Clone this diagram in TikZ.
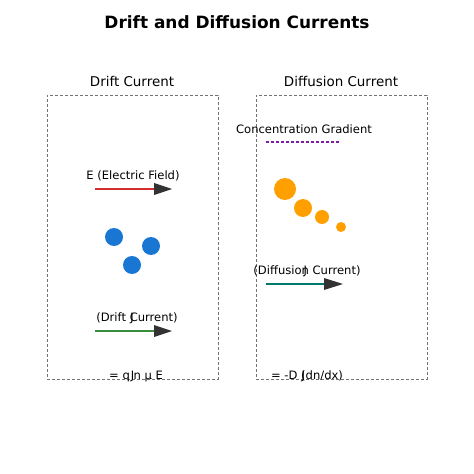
\documentclass[tikz,border=0pt]{standalone}
\usepackage{fontspec}
\setmainfont{DejaVu Sans}
\newcommand{\ovJ}[1]{\makebox[0pt][l]{\hspace{#1}J}}
\begin{document}
\begin{tikzpicture}[x=1bp,y=-1bp,
  panel/.style={draw=black!55,dash pattern=on 3bp off 2bp,line width=0.8bp},
  lbl/.style={inner sep=0pt,font=\fontsize{11.6}{13}\selectfont},
  hdr/.style={inner sep=0pt,font=\fontsize{13.5}{15}\selectfont},
  head/.style={fill=black!80,draw=none},
  blueq/.style={fill=blue0,draw=none},
  orq/.style={fill=orange0,draw=none}]
\definecolor{blue0}{RGB}{25,118,210}
\definecolor{orange0}{RGB}{255,160,0}
\definecolor{red0}{RGB}{211,47,47}
\definecolor{green0}{RGB}{56,142,60}
\definecolor{teal0}{RGB}{0,121,107}
\definecolor{purple0}{RGB}{123,31,162}
\useasboundingbox (0,0) rectangle (474,474);
% title
\node[inner sep=0pt,font=\fontsize{17}{19}\selectfont\bfseries] (title) at (237,22) {Drift and Diffusion Currents};
\node[hdr] (t1) at (132,81) {Drift Current};
\node[hdr] (t2) at (341,81) {Diffusion Current};
% panels
\node[panel,minimum width=171bp,minimum height=284bp,inner sep=0pt] (p1) at (132.5,237) {};
\node[panel,minimum width=171bp,minimum height=284bp,inner sep=0pt] (p2) at (341.5,237) {};
% left panel
\node[lbl] (ef) at (133,176) {E (Electric Field)};
\coordinate (e0) at (95,189); \coordinate (e1) at (154,189); \coordinate (e2) at (172,189);
\draw[red0,line width=1.1bp] (e0) -- (e1);
\fill[head] (154,183) -- (e2) -- (154,195) -- cycle;
\fill[blueq] (114,237) circle (9);
\fill[blueq] (151,246) circle (9);
\fill[blueq] (132,265) circle (9);
\node[lbl] (dc) at (137,318) {(Drift \ovJ{0.5pt}Current)};
\coordinate (d0) at (95,331); \coordinate (d1) at (154,331); \coordinate (d2) at (172,331);
\draw[green0,line width=1.1bp] (d0) -- (d1);
\fill[head] (154,325) -- (d2) -- (154,337) -- cycle;
\node[lbl] (f1) at (136,376) {= q\ovJ{1pt} n μ E};
% right panel
\node[lbl] (cg) at (304,129) {Concentration Gradient};
\coordinate (g0) at (266,142); \coordinate (g1) at (341,142);
\draw[purple0,line width=1.1bp,dash pattern=on 3bp off 2bp] (g0) -- (g1);
\fill[orq] (285,189) circle (11);
\fill[orq] (303,208) circle (9);
\fill[orq] (322,217) circle (7);
\fill[orq] (341,227) circle (5);
\node[lbl] (dfc) at (307,271) {(Diffusio\ovJ{2pt}n Current)};
\coordinate (h0) at (266,284); \coordinate (h1) at (324,284); \coordinate (h2) at (343,284);
\draw[teal0,line width=1.1bp] (h0) -- (h1);
\fill[head] (324,278) -- (h2) -- (324,290) -- cycle;
\node[lbl] (f2) at (307,376) {= -D \ovJ{0.5pt}(dn/dx)};
\end{tikzpicture}
\end{document}
